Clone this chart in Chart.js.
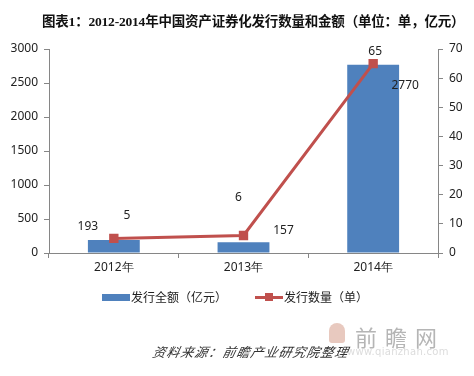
<!DOCTYPE html>
<html><head><meta charset="utf-8">
<script src="https://cdn.jsdelivr.net/npm/chart.js@4/dist/chart.umd.min.js"></script>
<style>
html,body{margin:0;padding:0;background:#fff;}
#wrap{position:relative;width:474px;height:376px;overflow:hidden;}
canvas{position:absolute;left:0;top:0;}
.t{position:absolute;white-space:nowrap;}
#title{left:42px;top:10px;font:bold 13.5px "Liberation Serif","Noto Sans CJK SC",serif;color:#111;letter-spacing:-0.2px;}
.lg{font:12px "Noto Sans CJK SC",sans-serif;color:#222;top:288px;}
#src{left:153px;top:342px;font:italic 13px "Noto Sans CJK SC",sans-serif;color:#333;transform:skewX(-12deg);letter-spacing:1px;}
#wm{left:355px;top:320px;font:22px "Noto Sans CJK SC",sans-serif;color:#b5b5b5;letter-spacing:8px;}
#wm2{left:347px;top:346px;font:10px "DejaVu Sans",sans-serif;color:#dcdcdc;letter-spacing:0.3px;}
#logo{position:absolute;left:329px;top:323px;width:16px;height:20px;border-radius:8px 8px 3px 3px;background:#e8c9bf;}
</style></head>
<body><div id="wrap">
<canvas id="c" width="474" height="376"></canvas>
<div id="title" class="t">图表1：2012-2014年中国资产证券化发行数量和金额（单位：单，亿元）</div>
<div class="t" style="left:102px;top:294px;width:28px;height:7px;background:#4F81BD;"></div>
<div class="t lg" style="left:131px;">发行全额（亿元）</div>
<div class="t" style="left:255px;top:296px;width:28px;height:3px;background:#C0504D;"></div>
<div class="t" style="left:265px;top:293px;width:8px;height:8px;background:#C0504D;"></div>
<div class="t lg" style="left:284px;">发行数量（单）</div>
<div id="logo"></div>
<div id="wm" class="t">前瞻网</div>
<div id="wm2" class="t">www.qianzhan.com</div>
<div id="src" class="t">资料来源：前瞻产业研究院整理</div>
</div>
<script>
const categories = ["2012年", "2013年", "2014年"];
const amountValues = [193, 157, 2770];   // 发行全额（亿元）
const countValues = [5, 6, 65];          // 发行数量（单）
const leftTicks = [0, 500, 1000, 1500, 2000, 2500, 3000];
const rightTicks = [0, 10, 20, 30, 40, 50, 60, 70];

// label offsets (styling only)
const barLabelOffsets = [[-26, -13], [40, -12], [32, 21]];
const lineLabelOffsets = [[13, -23], [-5, -38], [2, -12]];

const labelPlugin = {
  id: 'labels',
  afterDatasetsDraw(chart) {
    const ctx = chart.ctx;
    ctx.save();
    ctx.font = '12px "Noto Sans","DejaVu Sans",sans-serif';
    ctx.fillStyle = '#222';
    ctx.textAlign = 'center';
    ctx.textBaseline = 'middle';
    const barMeta = chart.getDatasetMeta(0);
    barMeta.data.forEach((el, i) => {
      ctx.fillText(String(amountValues[i]), el.x + barLabelOffsets[i][0], el.y + barLabelOffsets[i][1]);
    });
    const lineMeta = chart.getDatasetMeta(1);
    lineMeta.data.forEach((el, i) => {
      ctx.fillText(String(countValues[i]), el.x + lineLabelOffsets[i][0], el.y + lineLabelOffsets[i][1]);
    });
    ctx.restore();
  }
};

const tickFont = {family: '"Noto Sans","DejaVu Sans",sans-serif', size: 12};
const plain = v => String(v);
new Chart(document.getElementById('c'), {
  type: 'bar',
  data: {
    labels: categories,
    datasets: [
      {type: 'bar', label: '发行全额（亿元）', data: amountValues, backgroundColor: '#4F81BD',
       yAxisID: 'y', barPercentage: 0.8, categoryPercentage: 0.5, order: 2},
      {type: 'line', label: '发行数量（单）', data: countValues, borderColor: '#C0504D', backgroundColor: '#C0504D',
       borderWidth: 3, pointStyle: 'rect', pointRadius: 4.5, pointBackgroundColor: '#C0504D',
       pointBorderColor: '#C0504D', yAxisID: 'y1', tension: 0, order: 1}
    ]
  },
  options: {
    responsive: false,
    animation: false,
    devicePixelRatio: 1,
    layout: {padding: {top: 49, left: 0, right: 0, bottom: 0}},
    plugins: {legend: {display: false}, title: {display: false}, tooltip: {enabled: false}},
    scales: {
      x: {
        offset: true,
        grid: {display: true, offset: true, drawOnChartArea: false, tickLength: 5, color: '#868686'},
        border: {color: '#868686', width: 1},
        ticks: {font: tickFont, color: '#222', padding: 2},
        afterFit(s) { s.height = 123; }
      },
      y: {
        position: 'left', min: 0, max: 3000,
        afterBuildTicks(s) { s.ticks = leftTicks.map(v => ({value: v})); },
        grid: {display: true, drawOnChartArea: false, tickLength: 5, color: '#868686'},
        border: {color: '#868686', width: 1},
        ticks: {font: tickFont, color: '#222', padding: 6, callback: plain},
        afterFit(s) { s.width = 49; }
      },
      y1: {
        position: 'right', min: 0, max: 70,
        afterBuildTicks(s) { s.ticks = rightTicks.map(v => ({value: v})); },
        grid: {display: true, drawOnChartArea: false, tickLength: 5, color: '#868686'},
        border: {color: '#868686', width: 1},
        ticks: {font: tickFont, color: '#222', padding: 6, callback: plain},
        afterFit(s) { s.width = 36; }
      }
    }
  },
  plugins: [labelPlugin]
});
</script>
</body></html>
